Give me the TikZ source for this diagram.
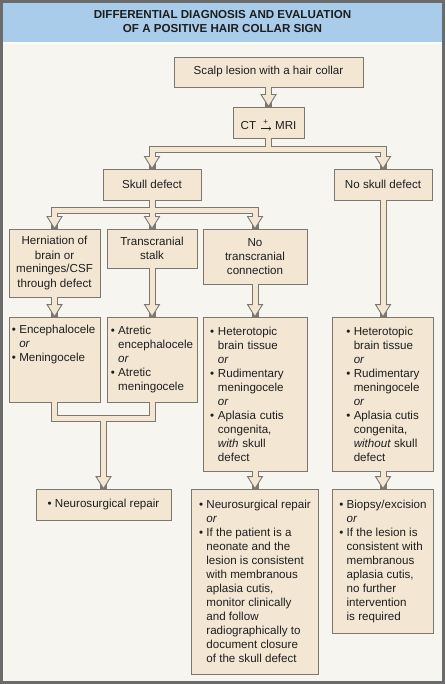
\documentclass[tikz,border=0pt]{standalone}
\usepackage{fontspec}
\setmainfont{Liberation Sans}
\definecolor{bandblue}{HTML}{A8CCE9}
\definecolor{paper}{HTML}{F6F5F0}
\definecolor{boxfill}{HTML}{F3E7D4}
\definecolor{edgegray}{HTML}{7D786F}
\definecolor{framegray}{HTML}{6B6B6B}
\definecolor{inkblack}{HTML}{1E1E1E}
\tikzset{%
	flowbox/.style  = {draw=edgegray, fill=boxfill, line width=0.9pt, inner sep=3pt, align=center, text=inkblack, font=\fontsize{11.6}{14}\selectfont},
	listbox/.style  = {flowbox, align=left},
	pipe/.style     = {draw=edgegray, line width=7pt},
	pipefill/.style = {draw=boxfill, line width=5pt},
	headtri/.style  = {draw=edgegray, fill=boxfill, line width=0.9pt},
}
\newcommand{\bul}{\textbullet\ }
\newcommand{\indt}{\hphantom{\textbullet\ }}

\begin{document}
\begin{tikzpicture}[x=1pt,y=-1pt]
	\useasboundingbox (0,0) rectangle (445,684);
	\fill[paper] (0,0) rectangle (445,684);
	\fill[bandblue] (0,0) rectangle (445,42);
	\fill[white] (0,42) rectangle (445,44);
	\node[align=center, text=inkblack, font=\fontsize{11.6}{14}\selectfont\bfseries] (title) at (222.5,22) {DIFFERENTIAL DIAGNOSIS AND EVALUATION\\OF A POSITIVE HAIR COLLAR SIGN};
	
	% top of the chart
	\node[flowbox, minimum width=189pt, minimum height=30pt] (scalp) at (268.5,72) {Scalp lesion with a hair collar};
	\node[flowbox, minimum width=71pt, minimum height=31pt, text height=15pt, text depth=0pt] (ct) at (268.5,122.5) {CT\hspace{19pt}MRI};
	\node[inner sep=0pt, text=inkblack, font=\fontsize{8}{8}\selectfont] (plus) at ([xshift=-2.7pt,yshift=0.5pt]ct.center) {+};
	\draw[->, inkblack, line width=0.6pt] ([xshift=-7.5pt,yshift=-6pt]ct.center) -- ([xshift=2.5pt,yshift=-6pt]ct.center);
	\node[flowbox, minimum width=98pt, minimum height=31pt] (skull) at (152,184.5) {Skull defect};
	\node[flowbox, minimum width=98pt, minimum height=31pt] (noskull) at (383,184.5) {No skull defect};
	
	% skull defect branches
	\node[flowbox, minimum width=91pt, minimum height=68pt] (hern) at (54.5,263) {Herniation of\\brain or\\meninges/CSF\\through defect};
	\node[flowbox, minimum width=90pt, minimum height=39pt] (stalk) at (152,248.5) {Transcranial\\stalk};
	\node[flowbox, minimum width=104pt, minimum height=55pt] (notc) at (255,256.5) {No\\transcranial\\connection};
	
	% diagnoses
	\node[listbox, minimum width=91pt, minimum height=85pt] (enc) at (54.5,359.5) {\parbox[c][68pt][t]{85pt}{\bul Encephalocele\\\indt\textit{or}\\\bul Meningocele}};
	\node[listbox, minimum width=90pt, minimum height=85pt] (atr) at (152,359.5) {\bul Atretic\\\indt encephalocele\\\indt\textit{or}\\\bul Atretic\\\indt meningocele};
	\node[listbox, text width=90pt, minimum width=104pt, minimum height=154pt] (het) at (255,394) {\bul Heterotopic\\\indt brain tissue\\\indt\textit{or}\\\bul Rudimentary\\\indt meningocele\\\indt\textit{or}\\\bul Aplasia cutis\\\indt congenita,\\\indt\textit{with} skull\\\indt defect};
	\node[listbox, minimum width=101pt, minimum height=154pt] (het2) at (383,394) {\bul Heterotopic\\\indt brain tissue\\\indt\textit{or}\\\bul Rudimentary\\\indt meningocele\\\indt\textit{or}\\\bul Aplasia cutis\\\indt congenita,\\\indt\textit{without} skull\\\indt defect};
	
	% management
	\node[listbox, minimum width=135pt, minimum height=31pt] (nrep) at (103.5,504.5) {\bul Neurosurgical repair};
	\node[listbox, minimum width=127pt, minimum height=185pt] (nrepb) at (255,581.5) {\bul Neurosurgical repair\\\indt\textit{or}\\\bul If the patient is a\\\indt neonate and the\\\indt lesion is consistent\\\indt with membranous\\\indt aplasia cutis,\\\indt monitor clinically\\\indt and follow\\\indt radiographically to\\\indt document closure\\\indt of the skull defect};
	\node[listbox, minimum width=101pt, minimum height=144pt] (biop) at (383,561) {\bul Biopsy/excision\\\indt\textit{or}\\\bul If the lesion is\\\indt consistent with\\\indt membranous\\\indt aplasia cutis,\\\indt no further\\\indt intervention\\\indt is required};
	
	% hollow arrows: outline, heads, then filling
	\foreach \s/\t in {scalp/ct,skull/stalk,hern/enc,stalk/atr,notc/het,noskull/het2,het/nrepb,het2/biop}
		\draw[pipe] (\s.south) -- (\t.north);
	\foreach \s/\t/\d in {ct/skull/11,ct/noskull/11,skull/hern/10,skull/notc/10,enc/nrep/16,atr/nrep/16}
		\draw[pipe] (\s.south) -- ++(0,\d) -| (\t.north);
	\foreach \t in {ct,skull,noskull,hern,stalk,notc,enc,atr,het,het2,nrep,nrepb,biop}
		\draw[headtri] (\t.north) -- ++(-7.5,-12) -- ++(15,0) -- cycle;
	\foreach \s/\t in {scalp/ct,skull/stalk,hern/enc,stalk/atr,notc/het,noskull/het2,het/nrepb,het2/biop}
		\draw[pipefill] ([yshift=1pt]\s.south) -- ([yshift=10pt]\t.north);
	\foreach \s/\t/\d in {ct/skull/11,ct/noskull/11,skull/hern/10,skull/notc/10,enc/nrep/16,atr/nrep/16}
		\draw[pipefill] ([yshift=1pt]\s.south) -- ++(0,\d+1) -| ([yshift=10pt]\t.north);
	
	\draw[framegray, line width=3pt] (1.5,1.5) rectangle (443.5,682.5);
\end{tikzpicture}
\end{document}
